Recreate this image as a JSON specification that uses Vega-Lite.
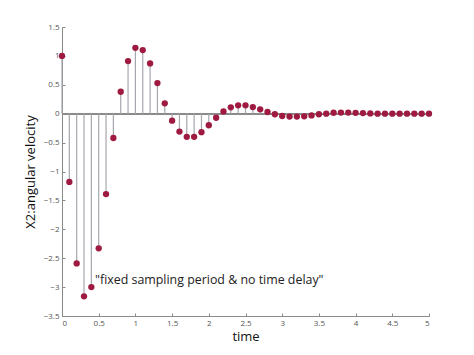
{
  "$schema": "https://vega.github.io/schema/vega-lite/v6.json",
  "width": 367,
  "height": 289,
  "autosize": {"type": "none"},
  "padding": {"left": 62, "top": 27, "right": 45, "bottom": 39},
  "background": "white",
  "config": {
    "view": {"stroke": null},
    "font": "Open Sans",
    "axis": {
      "grid": false,
      "domainColor": "#8a8a8a",
      "tickColor": "#8a8a8a",
      "labelColor": "#555555",
      "labelFontSize": 8,
      "titleFontSize": 13,
      "titleFontWeight": "normal",
      "titleColor": "#111111",
      "tickSize": -3,
      "labelPadding": 6,
      "format": "~g"
    }
  },
  "datasets": {
    "samples": [
      {"t": 0.0, "v": 1.0},
      {"t": 0.1, "v": -1.18},
      {"t": 0.2, "v": -2.59},
      {"t": 0.3, "v": -3.16},
      {"t": 0.4, "v": -3.0},
      {"t": 0.5, "v": -2.33},
      {"t": 0.6, "v": -1.39},
      {"t": 0.7, "v": -0.42},
      {"t": 0.8, "v": 0.38},
      {"t": 0.9, "v": 0.91},
      {"t": 1.0, "v": 1.14},
      {"t": 1.1, "v": 1.1},
      {"t": 1.2, "v": 0.87},
      {"t": 1.3, "v": 0.53},
      {"t": 1.4, "v": 0.18},
      {"t": 1.5, "v": -0.12},
      {"t": 1.6, "v": -0.31},
      {"t": 1.7, "v": -0.4},
      {"t": 1.8, "v": -0.4},
      {"t": 1.9, "v": -0.32},
      {"t": 2.0, "v": -0.2},
      {"t": 2.1, "v": -0.07},
      {"t": 2.2, "v": 0.04},
      {"t": 2.3, "v": 0.11},
      {"t": 2.4, "v": 0.145},
      {"t": 2.5, "v": 0.145},
      {"t": 2.6, "v": 0.115},
      {"t": 2.7, "v": 0.075},
      {"t": 2.8, "v": 0.03},
      {"t": 2.9, "v": -0.01},
      {"t": 3.0, "v": -0.04},
      {"t": 3.1, "v": -0.05},
      {"t": 3.2, "v": -0.05},
      {"t": 3.3, "v": -0.045},
      {"t": 3.4, "v": -0.03},
      {"t": 3.5, "v": -0.01},
      {"t": 3.6, "v": 0.0},
      {"t": 3.7, "v": 0.017},
      {"t": 3.8, "v": 0.02},
      {"t": 3.9, "v": 0.02},
      {"t": 4.0, "v": 0.015},
      {"t": 4.1, "v": 0.01},
      {"t": 4.2, "v": 0.005},
      {"t": 4.3, "v": 0.0},
      {"t": 4.4, "v": 0.0},
      {"t": 4.5, "v": 0.0},
      {"t": 4.6, "v": 0.0},
      {"t": 4.7, "v": 0.0},
      {"t": 4.8, "v": 0.0},
      {"t": 4.9, "v": 0.0},
      {"t": 5.0, "v": 0.0}
    ],
    "note": [
      {"t": 0.45, "v": -2.87, "label": "\"fixed sampling period & no time delay\""}
    ]
  },
  "data": {"name": "samples"},
  "encoding": {
    "x": {
      "field": "t",
      "type": "quantitative",
      "title": "time",
      "scale": {"domain": [0, 5], "nice": false, "zero": false},
      "axis": {"values": [0, 0.5, 1, 1.5, 2, 2.5, 3, 3.5, 4, 4.5, 5], "titlePadding": 3}
    },
    "y": {
      "field": "v",
      "type": "quantitative",
      "title": "X2:angular velocity",
      "scale": {"domain": [-3.5, 1.5], "nice": false, "zero": false},
      "axis": {"values": [-3.5, -3, -2.5, -2, -1.5, -1, -0.5, 0, 0.5, 1, 1.5], "titlePadding": 6}
    }
  },
  "layer": [
    {
      "mark": {"type": "rule", "color": "#8a8a8a", "strokeWidth": 1},
      "encoding": {"y": {"datum": 0}, "x": {"datum": 0}, "x2": {"datum": 5}}
    },
    {
      "mark": {"type": "rule", "color": "#a5a7ae", "strokeWidth": 1.2},
      "encoding": {"y2": {"datum": 0}}
    },
    {
      "mark": {"type": "point", "filled": true, "shape": "circle", "size": 40, "color": "#9e1a40", "opacity": 1}
    },
    {
      "data": {"name": "note"},
      "mark": {"type": "text", "align": "left", "baseline": "middle", "fontSize": 12.4, "color": "#222222", "font": "Open Sans"},
      "encoding": {"text": {"field": "label"}}
    }
  ]
}
